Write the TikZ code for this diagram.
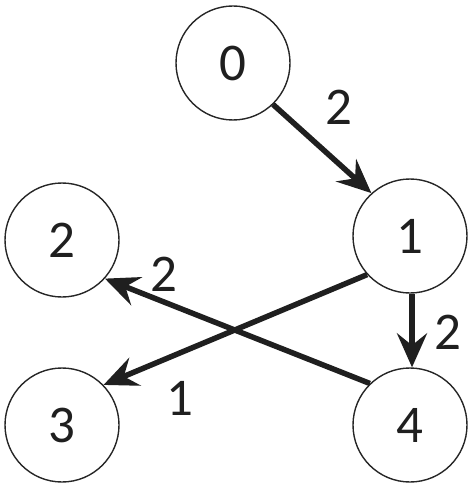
\documentclass[tikz,border=0pt]{standalone}
\usepackage{fontspec}
\setmainfont{Carlito}
\usetikzlibrary{arrows.meta}
\begin{document}
\begin{tikzpicture}[x=1pt,y=-1pt,
  vertex/.style={circle,draw=black!85,line width=1.4pt,minimum size=114pt,inner sep=0pt,font=\fontsize{53}{60}\selectfont,text=black!88},
  edge/.style={draw=black!88,line width=5.5pt,-{Stealth[length=34pt,width=30pt,inset=12pt]}},
  wt/.style={font=\fontsize{53}{60}\selectfont,text=black!88,inner sep=0pt}]
\useasboundingbox (0,0) rectangle (474,486);
\node[vertex] (n0) at (233,63) {0};
\node[vertex] (n1) at (410,236) {1};
\node[vertex] (n2) at (62,240) {2};
\node[vertex] (n3) at (62,425) {3};
\node[vertex] (n4) at (410,425) {4};
\draw[edge] (n0.314) -- (n1.132);
\draw[edge] (n1.-88) -- (n4.88);
\draw[edge] (n4.134) -- (n2.-42);
\draw[edge] (n1.222) -- (n3.44);
\node[wt] (w01) at (339,107) {2};
\node[wt] (w42) at (164,274) {2};
\node[wt] (w13) at (180,398) {1};
\node[wt] (w14) at (448,332) {2};
\end{tikzpicture}
\end{document}
